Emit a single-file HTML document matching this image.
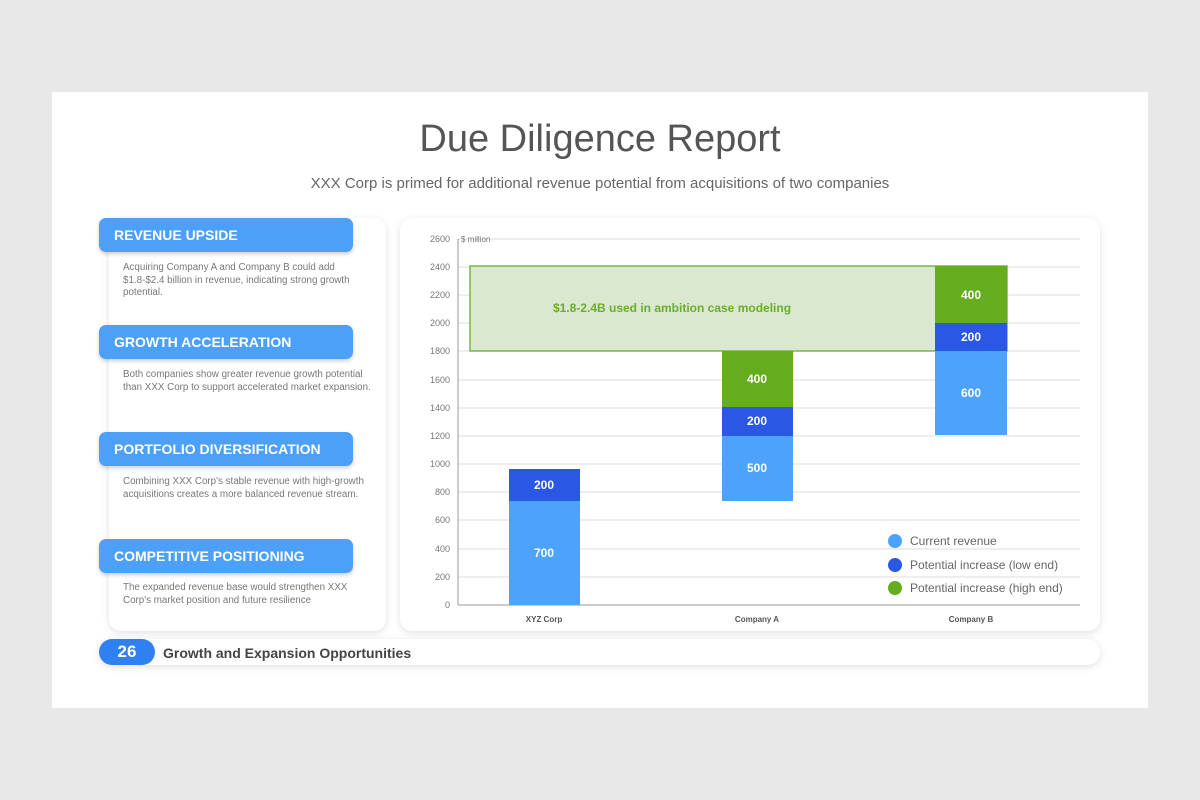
<!DOCTYPE html>
<html><head><meta charset="utf-8"><style>
body{margin:0;width:1200px;height:800px;background:#e9e8e9;font-family:"Liberation Sans",sans-serif;position:relative;overflow:hidden}
.slide{position:absolute;left:52px;top:92px;width:1096px;height:616px;background:#fff}
.abs{position:absolute}
.title{left:0;width:1200px;top:118px;text-align:center;font-size:38px;color:#555}
.sub{left:0;width:1200px;top:175px;text-align:center;font-size:15px;color:#666}
.panel{background:#fff;border-radius:12px;box-shadow:0 2px 8px rgba(0,0,0,.12)}
.hdr{left:99px;width:254px;height:34px;background:#4da0f7;border-radius:7px;color:#fff;font-weight:bold;font-size:14px;line-height:34px;padding-left:15px;box-sizing:border-box;box-shadow:0 2px 4px rgba(0,0,0,.2)}
.txt{left:123px;width:248px;font-size:9.8px;color:#777;line-height:12.5px}
</style></head><body>
<div class="slide"></div>
<div class="abs title">Due Diligence Report</div>
<div class="abs sub">XXX Corp is primed for additional revenue potential from acquisitions of two companies</div>
<div class="abs panel" style="left:109px;top:218px;width:277px;height:413px"></div>
<div class="abs panel" style="left:400px;top:218px;width:700px;height:413px"></div>
<div class="abs hdr" style="top:218px">REVENUE UPSIDE</div>
<div class="abs txt" style="top:262px">Acquiring Company A and Company B could add $1.8-$2.4 billion in revenue, indicating strong growth potential.</div>
<div class="abs hdr" style="top:325px">GROWTH ACCELERATION</div>
<div class="abs txt" style="top:369px">Both companies show greater revenue growth potential than XXX Corp to support accelerated market expansion.</div>
<div class="abs hdr" style="top:432px">PORTFOLIO DIVERSIFICATION</div>
<div class="abs txt" style="top:476px">Combining XXX Corp's stable revenue with high-growth acquisitions creates a more balanced revenue stream.</div>
<div class="abs hdr" style="top:539px">COMPETITIVE POSITIONING</div>
<div class="abs txt" style="top:582px">The expanded revenue base would strengthen XXX Corp's market position and future resilience</div>
<div class="abs panel" style="left:99px;top:639px;width:1001px;height:26px;border-radius:13px"></div>
<div class="abs" style="left:99px;top:639px;width:56px;height:26px;border-radius:13px;background:#2f80f0;color:#fff;font-weight:bold;font-size:17px;text-align:center;line-height:26px">26</div>
<div class="abs" style="left:163px;top:645px;font-size:14px;font-weight:bold;color:#444">Growth and Expansion Opportunities</div>
<svg class="abs" style="left:0;top:0" width="1200" height="800" font-family="Liberation Sans, sans-serif">
<g stroke="#ddd" stroke-width="1">
<line x1="458" x2="1080" y1="239" y2="239"/><line x1="458" x2="1080" y1="267" y2="267"/><line x1="458" x2="1080" y1="295" y2="295"/><line x1="458" x2="1080" y1="323" y2="323"/><line x1="458" x2="1080" y1="351" y2="351"/><line x1="458" x2="1080" y1="380" y2="380"/><line x1="458" x2="1080" y1="408" y2="408"/><line x1="458" x2="1080" y1="436" y2="436"/><line x1="458" x2="1080" y1="464" y2="464"/><line x1="458" x2="1080" y1="492" y2="492"/><line x1="458" x2="1080" y1="520" y2="520"/><line x1="458" x2="1080" y1="549" y2="549"/><line x1="458" x2="1080" y1="577" y2="577"/>
</g>
<g font-size="9" fill="#777" text-anchor="end">
<text x="450" y="242">2600</text><text x="450" y="270">2400</text><text x="450" y="298">2200</text><text x="450" y="326">2000</text><text x="450" y="354">1800</text><text x="450" y="383">1600</text><text x="450" y="411">1400</text><text x="450" y="439">1200</text><text x="450" y="467">1000</text><text x="450" y="495">800</text><text x="450" y="523">600</text><text x="450" y="552">400</text><text x="450" y="580">200</text><text x="450" y="608">0</text>
</g>
<text x="461" y="242" font-size="8" fill="#777">$ million</text>
<line x1="458" x2="458" y1="239" y2="605" stroke="#999"/>
<line x1="458" x2="1080" y1="605" y2="605" stroke="#999"/>
<rect x="470" y="266" width="537" height="85" fill="#d9e8cf" stroke="#7ab648" stroke-width="1.5"/>
<text x="672" y="312" font-size="12" font-weight="bold" fill="#6aae2c" text-anchor="middle">$1.8-2.4B used in ambition case modeling</text>
<rect x="509" y="501" width="71" height="104" fill="#4da3fb"/><rect x="509" y="469" width="71" height="32" fill="#2a57e3"/>
<rect x="722" y="436" width="71" height="65" fill="#4da3fb"/><rect x="722" y="407" width="71" height="29" fill="#2a57e3"/><rect x="722" y="351" width="71" height="56" fill="#65ad1e"/>
<rect x="935" y="351" width="72" height="84" fill="#4da3fb"/><rect x="935" y="323" width="72" height="28" fill="#2a57e3"/><rect x="935" y="266" width="72" height="57" fill="#65ad1e"/>
<g font-size="12" font-weight="bold" fill="#fff" text-anchor="middle">
<text x="544" y="557">700</text><text x="544" y="489">200</text>
<text x="757" y="472">500</text><text x="757" y="425">200</text><text x="757" y="383">400</text>
<text x="971" y="397">600</text><text x="971" y="341">200</text><text x="971" y="299">400</text>
</g>
<g font-size="8" font-weight="bold" fill="#555" text-anchor="middle">
<text x="544" y="622">XYZ Corp</text><text x="757" y="622">Company A</text><text x="971" y="622">Company B</text>
</g>
<circle cx="895" cy="541" r="7" fill="#4da3fb"/><circle cx="895" cy="565" r="7" fill="#2a57e3"/><circle cx="895" cy="588" r="7" fill="#65ad1e"/>
<g font-size="12" fill="#666"><text x="910" y="545">Current revenue</text><text x="910" y="569">Potential increase (low end)</text><text x="910" y="592">Potential increase (high end)</text></g>
</svg>
</body></html>
